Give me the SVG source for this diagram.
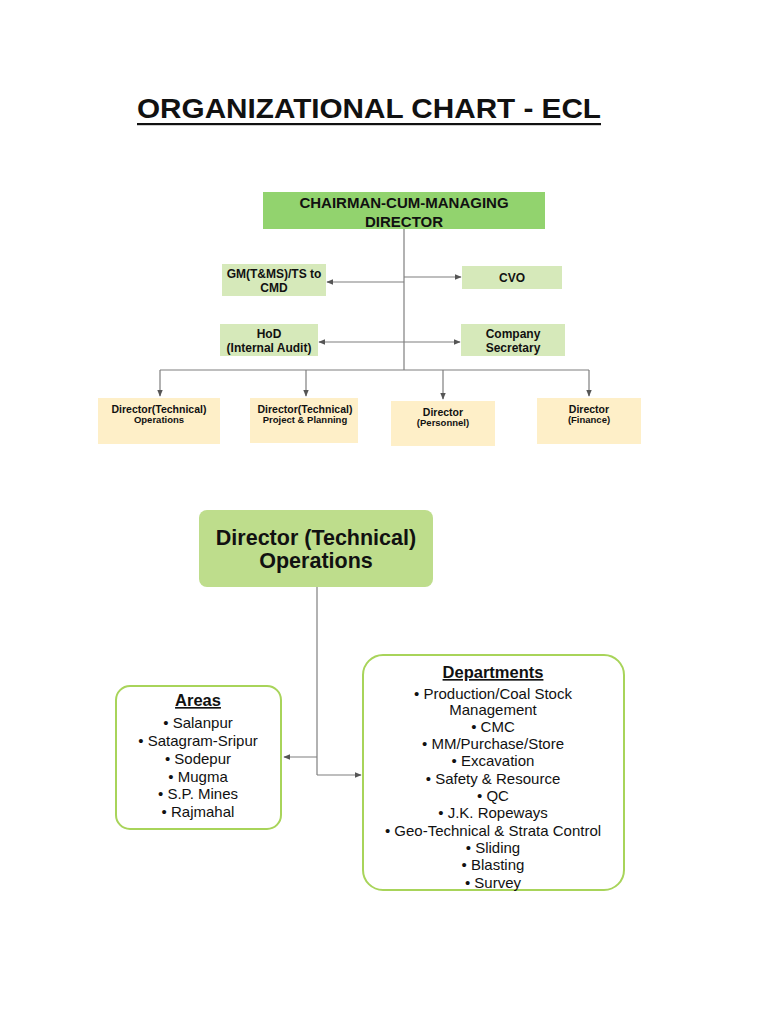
<svg xmlns="http://www.w3.org/2000/svg" width="768" height="1024" viewBox="0 0 768 1024">
<defs>
<marker id="ah" viewBox="0 0 10 10" refX="9" refY="5" markerWidth="7" markerHeight="7" markerUnits="userSpaceOnUse" orient="auto">
<path d="M0,1 L10,5 L0,9 Z" fill="#555"/>
</marker>
<style>
text{font-family:"Liberation Sans",Arial,sans-serif;text-anchor:middle;fill:#111}
.b{font-weight:bold}
.t1{font-size:15px;font-weight:bold}
.t2{font-size:12px;font-weight:bold}
.t5{font-size:10.5px;font-weight:bold}
.t4{font-size:9.5px;font-weight:bold}
.t3{font-size:21.5px;font-weight:bold}
.li{font-size:15px}
.hd{font-size:16.5px;font-weight:bold;text-decoration:underline}
.g1{fill:#92D36E}
.g2{fill:#D6E9BA}
.pe{fill:#FEEFC8}
.rb{fill:#fff;stroke:#A8D45A;stroke-width:2}
.c{fill:none;stroke:#7f7f7f;stroke-width:1.2}
.ca{fill:none;stroke:#7f7f7f;stroke-width:1.2;marker-end:url(#ah)}
</style>
</defs>
<rect width="768" height="1024" fill="#fff"/>
<g id="title">
<text x="369" y="118" class="b" font-size="28" textLength="464" lengthAdjust="spacingAndGlyphs">ORGANIZATIONAL CHART - ECL</text>
<rect x="137" y="123" width="464" height="2.2" fill="#111"/>
</g>
<g id="connectors">
<path class="c" d="M404,229 V370"/>
<path class="ca" d="M404,282 H327"/>
<path class="ca" d="M404,277 H461"/>
<path class="ca" d="M404,342 H319"/>
<path class="ca" d="M404,342 H460"/>
<path class="c" d="M160,370 H589"/>
<path class="ca" d="M160,370 V396"/>
<path class="ca" d="M306,370 V396"/>
<path class="ca" d="M443,370 V399"/>
<path class="ca" d="M589,370 V396"/>
<path class="c" d="M317,587 V775"/>
<path class="ca" d="M317,757 H284"/>
<path class="ca" d="M317,775 H361"/>
</g>
<g id="cmd">
<rect x="263" y="192" width="282" height="37" class="g1"/>
<text x="404" y="208" class="t1">CHAIRMAN-CUM-MANAGING</text>
<text x="404" y="227" class="t1">DIRECTOR</text>
</g>
<g id="gm">
<rect x="222" y="264" width="104" height="32" class="g2"/>
<text x="274" y="278" class="t2">GM(T&amp;MS)/TS to</text>
<text x="274" y="292" class="t2">CMD</text>
</g>
<g id="cvo">
<rect x="462" y="266" width="100" height="23" class="g2"/>
<text x="512" y="282" class="t2">CVO</text>
</g>
<g id="hod">
<rect x="220" y="324" width="98" height="32" class="g2"/>
<text x="269" y="338" class="t2">HoD</text>
<text x="269" y="352" class="t2">(Internal Audit)</text>
</g>
<g id="cs">
<rect x="461" y="324" width="104" height="32" class="g2"/>
<text x="513" y="338" class="t2">Company</text>
<text x="513" y="352" class="t2">Secretary</text>
</g>
<g id="d1">
<rect x="98" y="398" width="122" height="46" class="pe"/>
<text x="159" y="413" class="t5">Director(Technical)</text>
<text x="159" y="423" class="t4">Operations</text>
</g>
<g id="d2">
<rect x="250" y="398" width="108" height="45" class="pe"/>
<text x="305" y="413" class="t5">Director(Technical)</text>
<text x="305" y="423" class="t4">Project &amp; Planning</text>
</g>
<g id="d3">
<rect x="391" y="401" width="104" height="45" class="pe"/>
<text x="443" y="416" class="t5">Director</text>
<text x="443" y="426" class="t4">(Personnel)</text>
</g>
<g id="d4">
<rect x="537" y="398" width="104" height="46" class="pe"/>
<text x="589" y="413" class="t5">Director</text>
<text x="589" y="423" class="t4">(Finance)</text>
</g>
<g id="dto">
<rect x="199" y="510" width="234" height="77" rx="8" fill="#BEDD8C"/>
<text x="316" y="545" class="t3">Director (Technical)</text>
<text x="316" y="568" class="t3">Operations</text>
</g>
<g id="areas">
<rect x="116" y="686" width="165" height="143" rx="14" class="rb"/>
<text x="198" y="706" class="hd">Areas</text>
<text x="198" y="728" class="li">• Salanpur</text>
<text x="198" y="746" class="li">• Satagram-Sripur</text>
<text x="198" y="764" class="li">• Sodepur</text>
<text x="198" y="782" class="li">• Mugma</text>
<text x="198" y="799" class="li">• S.P. Mines</text>
<text x="198" y="817" class="li">• Rajmahal</text>
</g>
<g id="departments">
<rect x="363" y="655" width="261" height="235" rx="20" class="rb"/>
<text x="493" y="678" class="hd">Departments</text>
<text x="493" y="699" class="li">• Production/Coal Stock</text>
<text x="493" y="715" class="li">Management</text>
<text x="493" y="732" class="li">• CMC</text>
<text x="493" y="749" class="li">• MM/Purchase/Store</text>
<text x="493" y="766" class="li">• Excavation</text>
<text x="493" y="784" class="li">• Safety &amp; Resource</text>
<text x="493" y="801" class="li">• QC</text>
<text x="493" y="818" class="li">• J.K. Ropeways</text>
<text x="493" y="836" class="li">• Geo-Technical &amp; Strata Control</text>
<text x="493" y="853" class="li">• Sliding</text>
<text x="493" y="870" class="li">• Blasting</text>
<text x="493" y="888" class="li">• Survey</text>
</g>
</svg>
